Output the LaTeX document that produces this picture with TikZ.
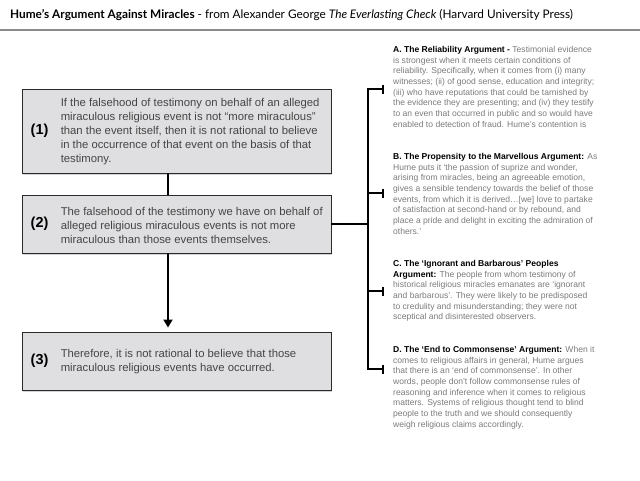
\documentclass[tikz,border=0pt]{standalone}
\usepackage{fontspec}
\setmainfont{Liberation Sans}
\newfontfamily\titlefont{Lato}
\usetikzlibrary{arrows.meta,positioning,calc,shadows}
\definecolor{boxfill}{HTML}{DFDFE1}
\definecolor{boxline}{HTML}{2A2A2A}
\definecolor{claimink}{HTML}{454545}
\definecolor{argink}{HTML}{7A7A7A}
\definecolor{rulegray}{HTML}{8A8A8A}
\tikzset{
    every picture/.style={line join=miter},
    claimbox/.style={draw=boxline,fill=boxfill,line width=0.9pt,
      minimum width=309pt,inner sep=0pt,
      drop shadow={opacity=0.35,shadow xshift=1.2pt,shadow yshift=-1.6pt}},
    claimnum/.style={font=\fontsize{14.5}{16}\selectfont\bfseries,text=black,inner sep=0pt},
    claimtext/.style={font=\fontsize{11.3}{14}\selectfont,text=claimink,
      align=left,inner sep=0pt},
    argtext/.style={font=\fontsize{8.55}{10.7}\selectfont,text=argink,
      align=left,inner sep=0pt,anchor=north west},
    link/.style={draw=black,line width=1.8pt},
    tick/.style={link,-{Bar[width=9pt,line width=1.8pt]}}
}
\newcommand{\arghd}[1]{\textcolor{black}{\bfseries #1}}
\begin{document}
\begin{tikzpicture}[x=1pt,y=-1pt]
  \useasboundingbox (0,0) rectangle (640,480);
  % title and rule
  \node[anchor=base west,inner sep=0pt,font=\titlefont\fontsize{11.8}{14}\selectfont] (title) at (10,18)
    {{\bfseries Hume’s Argument Against Miracles} - from Alexander George \textit{The Everlasting Check} (Harvard University Press)};
  \draw[rulegray,line width=1.2pt] (0,30) -- (640,30);
  % the three claims
  \node[claimbox,minimum height=84pt] (p1) at (176.5,131) {};
  \node[claimbox,minimum height=58pt] (p2) at (176.5,224) {};
  \node[claimbox,minimum height=58pt] (p3) at (176.5,361) {};
  \foreach \k in {1,2,3}
    \node[claimnum] (n\k) at ($(p\k.west)+(18,0)$) {(\k)};
  \node[claimtext,anchor=west] (c1) at ($(p1.west)+(39,1)$)
    {If the falsehood of testimony on behalf of an alleged\\
     miraculous religious event is not “more miraculous”\\
     than the event itself, then it is not rational to believe\\
     in the occurrence of that event on the basis of that\\
     testimony.};
  \node[claimtext,anchor=west] (c2) at ($(p2.west)+(39,1)$)
    {The falsehood of the testimony we have on behalf of\\
     alleged religious miraculous events is not more\\
     miraculous than those events themselves.};
  \node[claimtext,anchor=west] (c3) at ($(p3.west)+(39,1)$)
    {Therefore, it is not rational to believe that those\\
     miraculous religious events have occurred.};
  \coordinate (col) at (168,0);
  \draw[link] (p1.south -| col) -- (p2.north -| col);
  \draw[link,-{Triangle[length=8pt,width=9pt]},shorten >=4pt] (p2.south -| col) -- (p3.north -| col);
  % the four arguments
  \node[argtext] (argA) at (393,46)
    {\arghd{A. The Reliability Argument -} Testimonial evidence\\
     is strongest when it meets certain conditions of\\
     reliability. Specifically, when it comes from (i) many\\
     witnesses; (ii) of good sense, education and integrity;\\
     (iii) who have reputations that could be tarnished by\\
     the evidence they are presenting; and (iv) they testify\\
     to an even that occurred in public and so would have\\
     enabled to detection of fraud. Hume’s contention is};
  \node[argtext] (argB) at (393,153)
    {\arghd{B. The Propensity to the Marvellous Argument:} As\\
     Hume puts it ‘the passion of suprize and wonder,\\
     arising from miracles, being an agreeable emotion,\\
     gives a sensible tendency towards the belief of those\\
     events, from which it is derived…[we] love to partake\\
     of satisfaction at second-hand or by rebound, and\\
     place a pride and delight in exciting the admiration of\\
     others.’};
  \node[argtext] (argC) at (393,260)
    {\arghd{C. The ‘Ignorant and Barbarous’ Peoples}\\
     \arghd{Argument:} The people from whom testimony of\\
     historical religious miracles emanates are ‘ignorant\\
     and barbarous’. They were likely to be predisposed\\
     to credulity and misunderstanding; they were not\\
     sceptical and disinterested observers.};
  \node[argtext] (argD) at (393,346)
    {\arghd{D. The ‘End to Commonsense’ Argument:} When it\\
     comes to religious affairs in general, Hume argues\\
     that there is an ‘end of commonsense’. In other\\
     words, people don’t follow commonsense rules of\\
     reasoning and inference when it comes to religious\\
     matters. Systems of religious thought tend to blind\\
     people to the truth and we should consequently\\
     weigh religious claims accordingly.};
  % bracket from claim 2
  \coordinate (hub) at (368,224);
  \coordinate (tA) at (384,89);
  \coordinate (tB) at (384,193);
  \coordinate (tC) at (384,291);
  \coordinate (tD) at (384,369);
  \draw[link] (p2.east) -- (hub);
  \foreach \t in {tA,tB,tC,tD}
    \draw[tick] (hub) |- (\t);
\end{tikzpicture}
\end{document}
